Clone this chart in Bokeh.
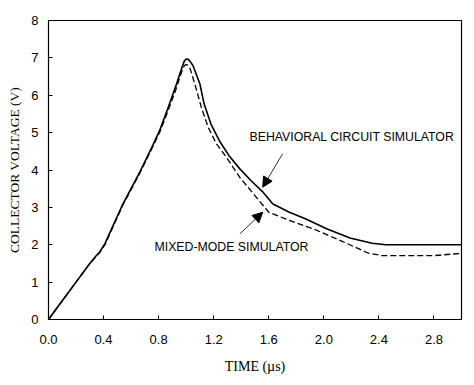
from bokeh.plotting import figure
from bokeh.models import Arrow, NormalHead, Label, FixedTicker, Range1d
from bokeh.embed import file_html
from bokeh.resources import INLINE

# Behavioral circuit simulator (solid)
t_beh = [0.0, 0.1, 0.2, 0.3, 0.34, 0.37, 0.41, 0.54, 0.66, 0.76, 0.81, 0.87, 0.93, 0.97, 0.985,
         1.0, 1.015, 1.03, 1.05, 1.1, 1.13, 1.18, 1.24, 1.31, 1.39, 1.47, 1.56, 1.63, 1.75,
         1.87, 2.02, 2.19, 2.35, 2.45, 2.6, 2.8, 3.0]
v_beh = [0.0, 0.5, 1.0, 1.5, 1.68, 1.8, 2.03, 3.09, 3.92, 4.68, 5.08, 5.68, 6.30, 6.75, 6.9,
         6.97, 6.96, 6.9, 6.79, 6.30, 5.77, 5.23, 4.79, 4.39, 4.03, 3.72, 3.40, 3.09, 2.87,
         2.69, 2.43, 2.18, 2.04, 2.0, 2.0, 2.0, 2.0]

# Mixed-mode simulator (dashed)
t_mix = [0.0, 0.1, 0.2, 0.3, 0.34, 0.37, 0.41, 0.54, 0.66, 0.76, 0.81, 0.87, 0.93, 0.96, 0.98,
         0.995, 1.01, 1.03, 1.07, 1.11, 1.16, 1.22, 1.30, 1.39, 1.53, 1.60, 1.75, 1.92, 2.11,
         2.23, 2.32, 2.42, 2.6, 2.8, 3.0]
v_mix = [0.0, 0.5, 1.0, 1.5, 1.66, 1.78, 2.0, 3.06, 3.89, 4.64, 5.03, 5.6, 6.2, 6.55, 6.75,
         6.82, 6.81, 6.7, 6.21, 5.68, 5.14, 4.70, 4.30, 3.80, 3.18, 2.87, 2.65, 2.43, 2.13,
         1.93, 1.78, 1.71, 1.71, 1.71, 1.77]

x_ticks = [0.0, 0.4, 0.8, 1.2, 1.6, 2.0, 2.4, 2.8]
x_tick_labels = ["0.0", "0.4", "0.8", "1.2", "1.6", "2.0", "2.4", "2.8"]
y_ticks = [0, 1, 2, 3, 4, 5, 6, 7, 8]

p = figure(width=465, height=377, output_backend="svg", toolbar_location=None,
           x_range=Range1d(0, 3.0), y_range=Range1d(0, 8),
           min_border_left=48, min_border_right=4, min_border_top=20, min_border_bottom=58)
p.grid.visible = False
p.outline_line_color = "black"
p.outline_line_width = 1.2
p.background_fill_color = "white"
p.border_fill_color = "white"

p.line(t_beh, v_beh, line_color="black", line_width=1.6)
p.line(t_mix, v_mix, line_color="black", line_width=1.3, line_dash="6 3")

p.xaxis.ticker = FixedTicker(ticks=x_ticks)
p.xaxis.major_label_overrides = {t: l for t, l in zip(x_ticks, x_tick_labels)}
p.yaxis.ticker = FixedTicker(ticks=y_ticks)
for ax in (p.xaxis, p.yaxis):
    ax.major_tick_in = 4
    ax.major_tick_out = 0
    ax.minor_tick_in = 0
    ax.minor_tick_out = 0
    ax.axis_line_color = "black"
    ax.major_label_text_font = "Liberation Sans"
    ax.major_label_text_font_size = "13px"
    ax.major_label_text_color = "black"
    ax.axis_label_text_font = "Liberation Serif"
    ax.axis_label_text_font_style = "normal"
    ax.axis_label_text_color = "black"

p.xaxis.axis_label = "TIME (µs)"
p.yaxis.axis_label = "COLLECTOR VOLTAGE (V)"
p.xaxis.axis_label_text_font_size = "14px"
p.yaxis.axis_label_text_font_size = "13.5px"
p.xaxis.major_label_standoff = 15
p.yaxis.major_label_standoff = 10
p.xaxis.axis_label_standoff = 12
p.yaxis.axis_label_standoff = 6

p.add_layout(Label(x=1.46, y=4.87, text="BEHAVIORAL CIRCUIT SIMULATOR",
                   text_font="Liberation Sans", text_font_size="12.3px",
                   text_baseline="middle", text_color="black"))
p.add_layout(Label(x=0.77, y=1.95, text="MIXED-MODE SIMULATOR",
                   text_font="Liberation Sans", text_font_size="12.3px",
                   text_baseline="middle", text_color="black"))

p.add_layout(Arrow(x_start=1.70, y_start=4.43, x_end=1.556, y_end=3.54,
                   line_color="black", line_width=0.8,
                   end=NormalHead(size=10, fill_color="black", line_color="black")))
p.add_layout(Arrow(x_start=1.39, y_start=2.29, x_end=1.556, y_end=2.87,
                   line_color="black", line_width=0.8,
                   end=NormalHead(size=10, fill_color="black", line_color="black")))

open("out.html", "w").write(file_html(p, INLINE))
